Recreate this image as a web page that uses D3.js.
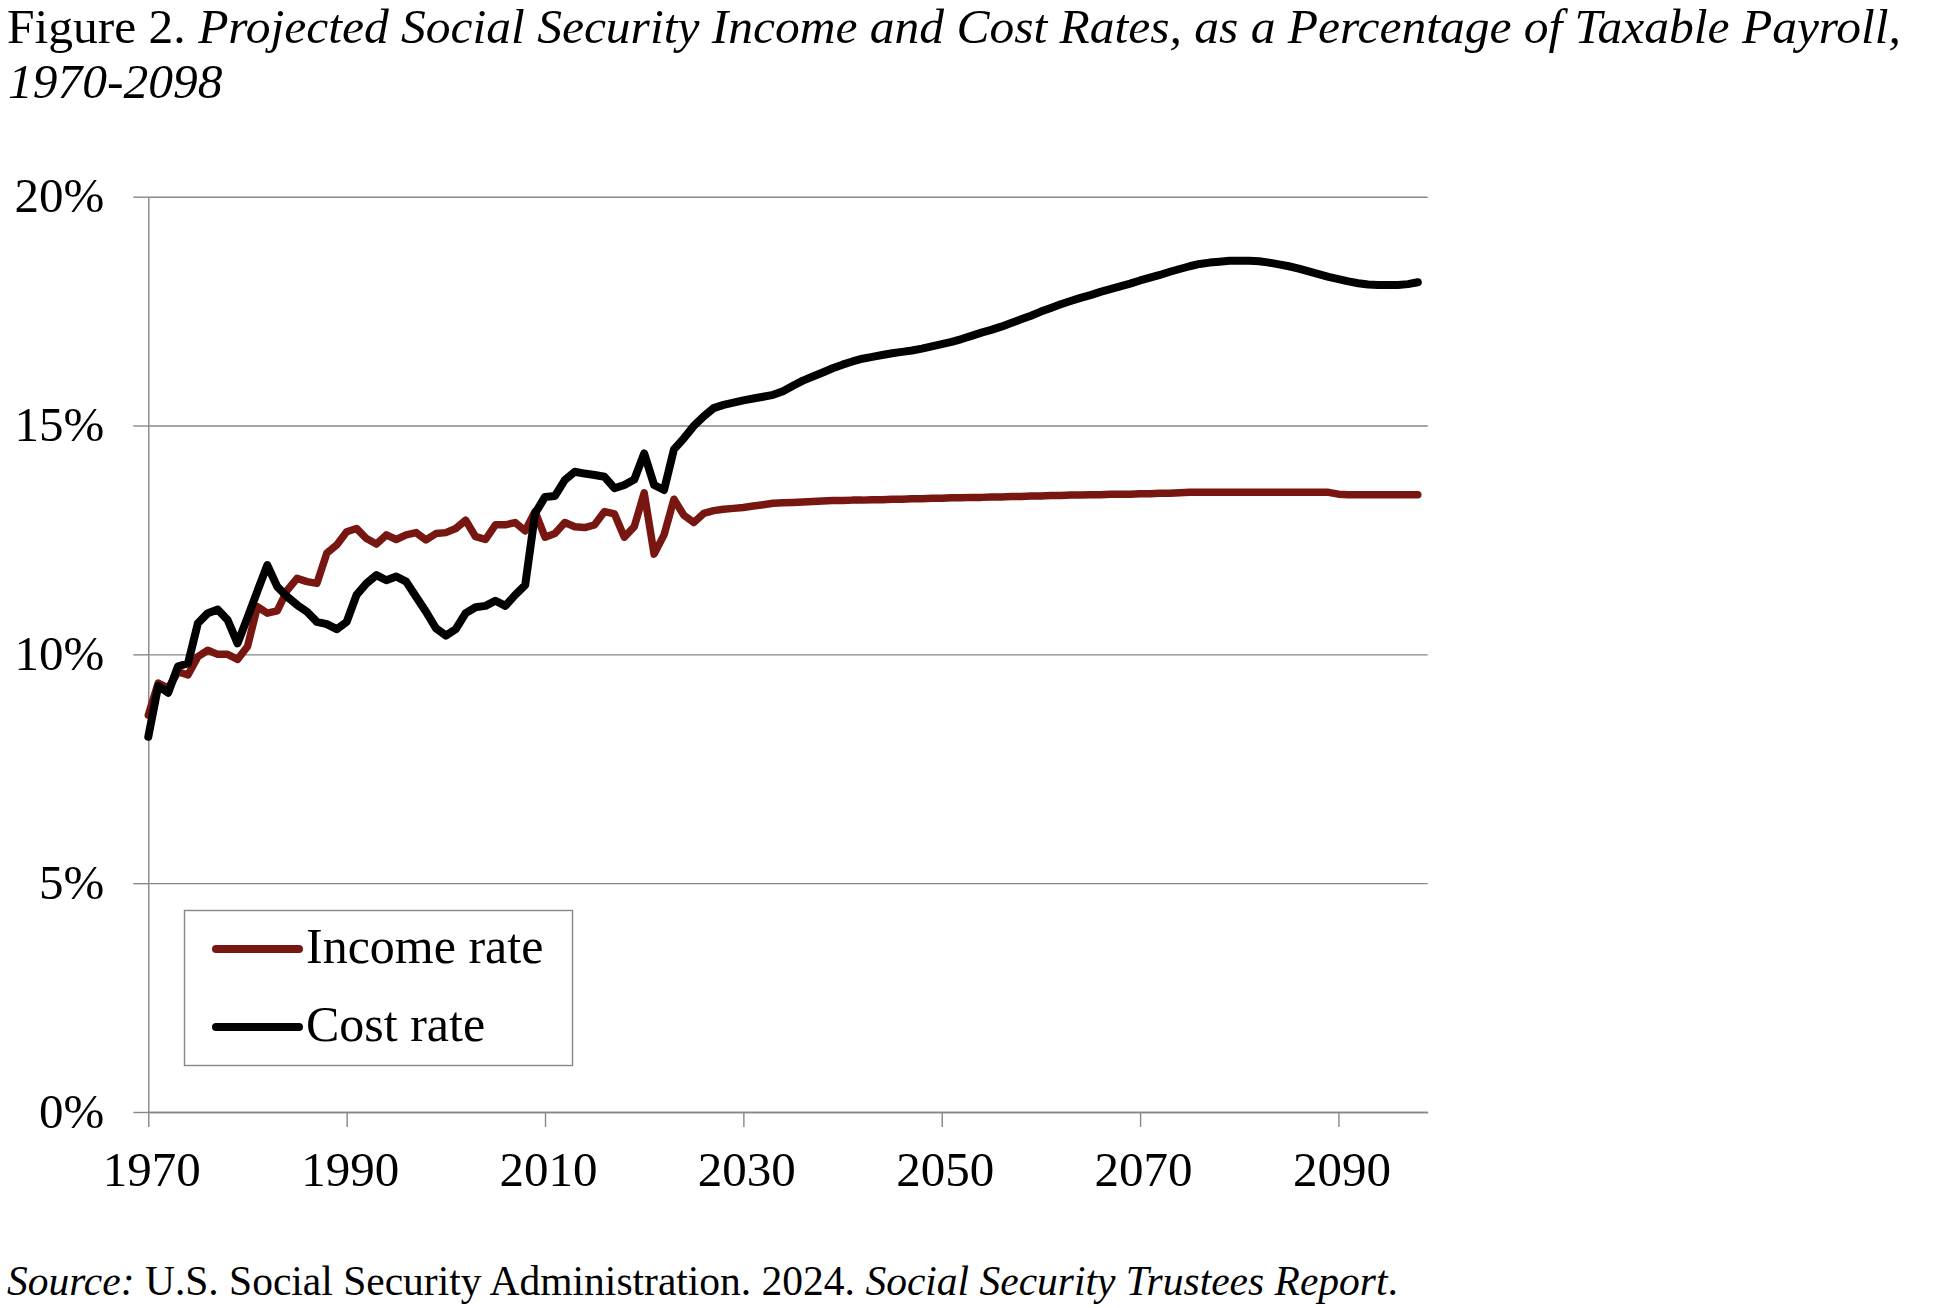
<!DOCTYPE html>
<html>
<head>
<meta charset="utf-8">
<script src="https://cdn.jsdelivr.net/npm/d3@7"></script>
<style>
  html, body { margin: 0; padding: 0; background: #fff; }
  svg { display: block; }
  text { font-family: "Liberation Serif", "Times New Roman", Times, serif; fill: #000; }
</style>
</head>
<body>
<svg id="chart" width="1938" height="1308"></svg>
<script>
// ---------- data ----------
const years = d3.range(1970, 2099); // 1970 … 2098

const incomeRate = [
  // 1970-1979
  8.67, 9.37, 9.26, 9.62, 9.55, 9.95, 10.09, 10.00, 10.00, 9.89,
  // 1980-1989
  10.17, 11.04, 10.90, 10.95, 11.40, 11.66, 11.59, 11.55, 12.21, 12.39,
  // 1990-1999
  12.68, 12.75, 12.53, 12.41, 12.61, 12.51, 12.61, 12.66, 12.50, 12.64,
  // 2000-2009
  12.66, 12.75, 12.93, 12.57, 12.51, 12.83, 12.83, 12.88, 12.70, 13.12,
  // 2010-2019
  12.56, 12.64, 12.88, 12.79, 12.77, 12.83, 13.12, 13.07, 12.56, 12.79,
  // 2020-2029
  13.53, 12.19, 12.61, 13.39, 13.04, 12.88, 13.08, 13.14, 13.17, 13.19,
  // 2030-2039
  13.21, 13.24, 13.27, 13.30, 13.31, 13.32, 13.33, 13.34, 13.35, 13.36,
  // 2040-2049
  13.36, 13.37, 13.37, 13.38, 13.38, 13.39, 13.39, 13.40, 13.40, 13.41,
  // 2050-2059
  13.41, 13.42, 13.42, 13.43, 13.43, 13.44, 13.44, 13.45, 13.45, 13.46,
  // 2060-2069
  13.46, 13.47, 13.47, 13.48, 13.48, 13.49, 13.49, 13.50, 13.50, 13.50,
  // 2070-2079
  13.51, 13.51, 13.52, 13.52, 13.53, 13.54, 13.54, 13.54, 13.54, 13.54,
  // 2080-2089
  13.54, 13.54, 13.54, 13.54, 13.54, 13.54, 13.54, 13.54, 13.54, 13.54,
  // 2090-2098
  13.50, 13.49, 13.49, 13.49, 13.49, 13.49, 13.49, 13.49, 13.49
];

const costRate = [
  // 1970-1979
  8.20, 9.31, 9.16, 9.74, 9.80, 10.68, 10.90, 10.98, 10.75, 10.24,
  // 1980-1989
  10.80, 11.38, 11.95, 11.48, 11.26, 11.08, 10.93, 10.71, 10.66, 10.55,
  // 1990-1999
  10.71, 11.30, 11.55, 11.73, 11.62, 11.70, 11.59, 11.26, 10.93, 10.57,
  // 2000-2009
  10.41, 10.55, 10.90, 11.03, 11.06, 11.17, 11.06, 11.30, 11.51, 13.08,
  // 2010-2019
  13.44, 13.46, 13.81, 13.99, 13.95, 13.92, 13.88, 13.63, 13.70, 13.82,
  // 2020-2029
  14.39, 13.70, 13.59, 14.48, 14.72, 14.99, 15.20, 15.38, 15.45, 15.50,
  // 2030-2039
  15.55, 15.59, 15.63, 15.67, 15.75, 15.87, 15.98, 16.07, 16.16, 16.25,
  // 2040-2049
  16.33, 16.40, 16.46, 16.50, 16.54, 16.58, 16.61, 16.64, 16.68, 16.73,
  // 2050-2059
  16.78, 16.83, 16.89, 16.96, 17.03, 17.09, 17.16, 17.24, 17.32, 17.40,
  // 2060-2069
  17.49, 17.57, 17.65, 17.72, 17.79, 17.85, 17.92, 17.98, 18.04, 18.10,
  // 2070-2079
  18.17, 18.23, 18.29, 18.36, 18.42, 18.48, 18.53, 18.56, 18.58, 18.60,
  // 2080-2089
  18.60, 18.60, 18.59, 18.56, 18.52, 18.48, 18.43, 18.37, 18.31, 18.25,
  // 2090-2098
  18.20, 18.15, 18.11, 18.08, 18.07, 18.07, 18.07, 18.09, 18.13
];

const seriesNames = ["Income rate", "Cost rate"];
const seriesColors = ["#781611", "#000000"];
const xTickYears = [1970, 1990, 2010, 2030, 2050, 2070, 2090];
const yTickValues = [0, 5, 10, 15, 20];

const titlePlain = "Figure 2. ";
const titleItalic1 = "Projected Social Security Income and Cost Rates, as a Percentage of Taxable Payroll,";
const titleItalic2 = "1970-2098";

// ---------- layout ----------
const svg = d3.select("#chart");
const plotLeft = 148.3, plotRight = 1427.7, plotTop = 196.7, plotBottom = 1112;
const gridColor = "#878787";
const fontSize = 49;

const x = d3.scaleLinear().domain([1970, 2099]).range([plotLeft, plotRight]);
const y = d3.scaleLinear().domain([0, 20]).range([plotBottom, plotTop]);

svg.append("rect").attr("width", 1938).attr("height", 1308).attr("fill", "#fff");

// title
const t1 = svg.append("text").attr("x", 7).attr("y", 43).style("font-size", "49.5px");
t1.append("tspan").text(titlePlain);
t1.append("tspan").style("font-style", "italic").text(titleItalic1);
svg.append("text").attr("x", 8).attr("y", 98).style("font-size", "49.5px")
  .style("font-style", "italic").text(titleItalic2);

// gridlines (through an axis)
const grid = svg.append("g").attr("transform", `translate(${plotLeft},0)`)
  .call(d3.axisRight(y).tickValues(yTickValues).tickSize(plotRight - plotLeft).tickFormat(""));
grid.select(".domain").remove();
grid.selectAll("line").attr("stroke", gridColor).attr("stroke-width", 1.4);

// y axis with left tick extensions and labels
const yAxis = svg.append("g").attr("transform", `translate(${plotLeft},0)`)
  .call(d3.axisLeft(y).tickValues(yTickValues).tickSize(15).tickSizeOuter(0)
    .tickPadding(29).tickFormat(d => d + "%"));
yAxis.select(".domain").attr("stroke", gridColor).attr("stroke-width", 1.4);
yAxis.selectAll("line").attr("stroke", gridColor).attr("stroke-width", 1.4);
yAxis.selectAll("text").attr("dy", "0.31em")
  .style("font-size", fontSize + "px").style("font-family", "'Liberation Serif', 'Times New Roman', serif").attr("fill", "#000");

// x axis
const xAxis = svg.append("g").attr("transform", `translate(0,${plotBottom})`)
  .call(d3.axisBottom(x).tickValues(xTickYears).tickSize(15).tickSizeOuter(0)
    .tickPadding(24).tickFormat(d3.format("d")));
xAxis.select(".domain").attr("stroke", gridColor).attr("stroke-width", 1.4);
xAxis.selectAll("line").attr("stroke", gridColor).attr("stroke-width", 1.4);
xAxis.selectAll("text").attr("dx", 3)
  .style("font-size", fontSize + "px").style("font-family", "'Liberation Serif', 'Times New Roman', serif").attr("fill", "#000");

// lines
const line = d3.line().x((d, i) => x(years[i])).y(d => y(d));
svg.append("path").datum(incomeRate).attr("d", line)
  .attr("fill", "none").attr("stroke", seriesColors[0]).attr("stroke-width", 7.5)
  .attr("stroke-linejoin", "round").attr("stroke-linecap", "round");
svg.append("path").datum(costRate).attr("d", line)
  .attr("fill", "none").attr("stroke", seriesColors[1]).attr("stroke-width", 8)
  .attr("stroke-linejoin", "round").attr("stroke-linecap", "round");

// legend
const lg = svg.append("g");
lg.append("rect").attr("x", 184.5).attr("y", 910.5).attr("width", 388).attr("height", 155)
  .attr("fill", "#fff").attr("stroke", gridColor).attr("stroke-width", 1.4);
seriesNames.forEach((name, i) => {
  const cy = 949 + i * 78;
  lg.append("line").attr("x1", 216).attr("x2", 299).attr("y1", cy).attr("y2", cy)
    .attr("stroke", seriesColors[i]).attr("stroke-width", 8).attr("stroke-linecap", "round");
  lg.append("text").attr("x", 306).attr("y", cy + 14).style("font-size", "50px").text(name);
});

// source
const src = svg.append("text").attr("x", 7).attr("y", 1295).style("font-size", "41.5px");
src.append("tspan").style("font-style", "italic").text("Source:");
src.append("tspan").text(" U.S. Social Security Administration. 2024. ");
src.append("tspan").style("font-style", "italic").text("Social Security Trustees Report");
src.append("tspan").text(".");
</script>
</body>
</html>
